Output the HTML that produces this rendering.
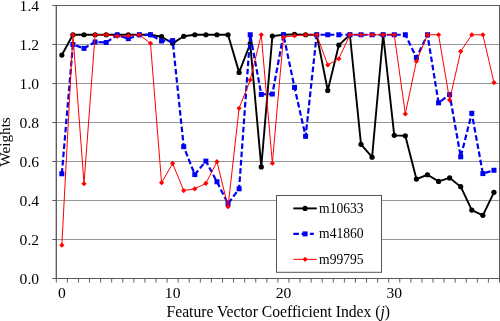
<!DOCTYPE html><html><head><meta charset="utf-8"><title>Weights chart</title>
<style>html,body{margin:0;padding:0;background:#fff;}svg{display:block;}text{font-family:"Liberation Serif","Times New Roman",serif;fill:#000;}</style></head><body>
<svg width="500" height="321" viewBox="0 0 500 321">
<rect x="0" y="0" width="500" height="321" fill="#fff"/>
<line x1="56.3" x2="499.5" y1="239.50" y2="239.50" stroke="#969696" stroke-width="1"/>
<line x1="56.3" x2="499.5" y1="200.50" y2="200.50" stroke="#969696" stroke-width="1"/>
<line x1="56.3" x2="499.5" y1="161.50" y2="161.50" stroke="#969696" stroke-width="1"/>
<line x1="56.3" x2="499.5" y1="122.50" y2="122.50" stroke="#969696" stroke-width="1"/>
<line x1="56.3" x2="499.5" y1="83.50" y2="83.50" stroke="#969696" stroke-width="1"/>
<line x1="56.3" x2="499.5" y1="44.50" y2="44.50" stroke="#969696" stroke-width="1"/>
<rect x="56.3" y="5.5" width="443.2" height="273.0" fill="none" stroke="#5a5a5a" stroke-width="1"/>
<line x1="56.3" x2="56.3" y1="5.5" y2="278.5" stroke="#5a5a5a" stroke-width="1"/>
<line x1="56.3" x2="499.5" y1="278.5" y2="278.5" stroke="#5a5a5a" stroke-width="1"/>
<line x1="52.3" x2="56.3" y1="278.50" y2="278.50" stroke="#5a5a5a" stroke-width="1"/>
<text x="39.1" y="283.50" font-size="15.6" text-anchor="end">0.0</text>
<line x1="52.3" x2="56.3" y1="239.50" y2="239.50" stroke="#5a5a5a" stroke-width="1"/>
<text x="39.1" y="244.50" font-size="15.6" text-anchor="end">0.2</text>
<line x1="52.3" x2="56.3" y1="200.50" y2="200.50" stroke="#5a5a5a" stroke-width="1"/>
<text x="39.1" y="205.50" font-size="15.6" text-anchor="end">0.4</text>
<line x1="52.3" x2="56.3" y1="161.50" y2="161.50" stroke="#5a5a5a" stroke-width="1"/>
<text x="39.1" y="166.50" font-size="15.6" text-anchor="end">0.6</text>
<line x1="52.3" x2="56.3" y1="122.50" y2="122.50" stroke="#5a5a5a" stroke-width="1"/>
<text x="39.1" y="127.50" font-size="15.6" text-anchor="end">0.8</text>
<line x1="52.3" x2="56.3" y1="83.50" y2="83.50" stroke="#5a5a5a" stroke-width="1"/>
<text x="39.1" y="88.50" font-size="15.6" text-anchor="end">1.0</text>
<line x1="52.3" x2="56.3" y1="44.50" y2="44.50" stroke="#5a5a5a" stroke-width="1"/>
<text x="39.1" y="49.50" font-size="15.6" text-anchor="end">1.2</text>
<line x1="52.3" x2="56.3" y1="5.50" y2="5.50" stroke="#5a5a5a" stroke-width="1"/>
<text x="39.1" y="10.50" font-size="15.6" text-anchor="end">1.4</text>
<line x1="56.30" x2="56.30" y1="278.5" y2="282.5" stroke="#5a5a5a" stroke-width="1"/>
<line x1="67.38" x2="67.38" y1="278.5" y2="282.5" stroke="#5a5a5a" stroke-width="1"/>
<line x1="78.46" x2="78.46" y1="278.5" y2="282.5" stroke="#5a5a5a" stroke-width="1"/>
<line x1="89.54" x2="89.54" y1="278.5" y2="282.5" stroke="#5a5a5a" stroke-width="1"/>
<line x1="100.62" x2="100.62" y1="278.5" y2="282.5" stroke="#5a5a5a" stroke-width="1"/>
<line x1="111.70" x2="111.70" y1="278.5" y2="282.5" stroke="#5a5a5a" stroke-width="1"/>
<line x1="122.78" x2="122.78" y1="278.5" y2="282.5" stroke="#5a5a5a" stroke-width="1"/>
<line x1="133.86" x2="133.86" y1="278.5" y2="282.5" stroke="#5a5a5a" stroke-width="1"/>
<line x1="144.94" x2="144.94" y1="278.5" y2="282.5" stroke="#5a5a5a" stroke-width="1"/>
<line x1="156.02" x2="156.02" y1="278.5" y2="282.5" stroke="#5a5a5a" stroke-width="1"/>
<line x1="167.10" x2="167.10" y1="278.5" y2="282.5" stroke="#5a5a5a" stroke-width="1"/>
<line x1="178.18" x2="178.18" y1="278.5" y2="282.5" stroke="#5a5a5a" stroke-width="1"/>
<line x1="189.26" x2="189.26" y1="278.5" y2="282.5" stroke="#5a5a5a" stroke-width="1"/>
<line x1="200.34" x2="200.34" y1="278.5" y2="282.5" stroke="#5a5a5a" stroke-width="1"/>
<line x1="211.42" x2="211.42" y1="278.5" y2="282.5" stroke="#5a5a5a" stroke-width="1"/>
<line x1="222.50" x2="222.50" y1="278.5" y2="282.5" stroke="#5a5a5a" stroke-width="1"/>
<line x1="233.58" x2="233.58" y1="278.5" y2="282.5" stroke="#5a5a5a" stroke-width="1"/>
<line x1="244.66" x2="244.66" y1="278.5" y2="282.5" stroke="#5a5a5a" stroke-width="1"/>
<line x1="255.74" x2="255.74" y1="278.5" y2="282.5" stroke="#5a5a5a" stroke-width="1"/>
<line x1="266.82" x2="266.82" y1="278.5" y2="282.5" stroke="#5a5a5a" stroke-width="1"/>
<line x1="277.90" x2="277.90" y1="278.5" y2="282.5" stroke="#5a5a5a" stroke-width="1"/>
<line x1="288.98" x2="288.98" y1="278.5" y2="282.5" stroke="#5a5a5a" stroke-width="1"/>
<line x1="300.06" x2="300.06" y1="278.5" y2="282.5" stroke="#5a5a5a" stroke-width="1"/>
<line x1="311.14" x2="311.14" y1="278.5" y2="282.5" stroke="#5a5a5a" stroke-width="1"/>
<line x1="322.22" x2="322.22" y1="278.5" y2="282.5" stroke="#5a5a5a" stroke-width="1"/>
<line x1="333.30" x2="333.30" y1="278.5" y2="282.5" stroke="#5a5a5a" stroke-width="1"/>
<line x1="344.38" x2="344.38" y1="278.5" y2="282.5" stroke="#5a5a5a" stroke-width="1"/>
<line x1="355.46" x2="355.46" y1="278.5" y2="282.5" stroke="#5a5a5a" stroke-width="1"/>
<line x1="366.54" x2="366.54" y1="278.5" y2="282.5" stroke="#5a5a5a" stroke-width="1"/>
<line x1="377.62" x2="377.62" y1="278.5" y2="282.5" stroke="#5a5a5a" stroke-width="1"/>
<line x1="388.70" x2="388.70" y1="278.5" y2="282.5" stroke="#5a5a5a" stroke-width="1"/>
<line x1="399.78" x2="399.78" y1="278.5" y2="282.5" stroke="#5a5a5a" stroke-width="1"/>
<line x1="410.86" x2="410.86" y1="278.5" y2="282.5" stroke="#5a5a5a" stroke-width="1"/>
<line x1="421.94" x2="421.94" y1="278.5" y2="282.5" stroke="#5a5a5a" stroke-width="1"/>
<line x1="433.02" x2="433.02" y1="278.5" y2="282.5" stroke="#5a5a5a" stroke-width="1"/>
<line x1="444.10" x2="444.10" y1="278.5" y2="282.5" stroke="#5a5a5a" stroke-width="1"/>
<line x1="455.18" x2="455.18" y1="278.5" y2="282.5" stroke="#5a5a5a" stroke-width="1"/>
<line x1="466.26" x2="466.26" y1="278.5" y2="282.5" stroke="#5a5a5a" stroke-width="1"/>
<line x1="477.34" x2="477.34" y1="278.5" y2="282.5" stroke="#5a5a5a" stroke-width="1"/>
<line x1="488.42" x2="488.42" y1="278.5" y2="282.5" stroke="#5a5a5a" stroke-width="1"/>
<line x1="499.50" x2="499.50" y1="278.5" y2="282.5" stroke="#5a5a5a" stroke-width="1"/>
<text x="61.84" y="297.5" font-size="15.6" text-anchor="middle">0</text>
<text x="172.64" y="297.5" font-size="15.6" text-anchor="middle">10</text>
<text x="283.44" y="297.5" font-size="15.6" text-anchor="middle">20</text>
<text x="394.24" y="297.5" font-size="15.6" text-anchor="middle">30</text>
<text x="278.3" y="317.3" font-size="15.65" text-anchor="middle">Feature Vector Coefficient Index (<tspan font-style="italic">j</tspan>)</text>
<text transform="translate(9.6,142.0) rotate(-90)" font-size="15.25" text-anchor="middle">Weights</text>
<polyline points="61.84,55.03 72.92,34.75 84.00,34.75 95.08,34.75 106.16,34.75 117.24,34.75 128.32,34.75 139.40,34.75 150.48,34.75 161.56,36.70 172.64,43.33 183.72,36.31 194.80,34.75 205.88,34.75 216.96,34.75 228.04,34.75 239.12,72.38 250.20,43.72 261.28,166.96 272.36,36.11 283.44,34.75 294.52,34.36 305.60,34.75 316.68,34.75 327.76,90.52 338.84,45.08 349.92,34.75 361.00,144.34 372.08,157.21 383.16,34.75 394.24,135.37 405.32,135.76 416.40,179.05 427.48,174.76 438.56,181.39 449.64,177.88 460.72,186.66 471.80,210.06 482.88,215.32 493.96,192.31" fill="none" stroke="#000" stroke-width="1.9" stroke-linejoin="round"/>
<circle cx="61.84" cy="55.03" r="2.6" fill="#000"/>
<circle cx="72.92" cy="34.75" r="2.6" fill="#000"/>
<circle cx="84.00" cy="34.75" r="2.6" fill="#000"/>
<circle cx="95.08" cy="34.75" r="2.6" fill="#000"/>
<circle cx="106.16" cy="34.75" r="2.6" fill="#000"/>
<circle cx="117.24" cy="34.75" r="2.6" fill="#000"/>
<circle cx="128.32" cy="34.75" r="2.6" fill="#000"/>
<circle cx="139.40" cy="34.75" r="2.6" fill="#000"/>
<circle cx="150.48" cy="34.75" r="2.6" fill="#000"/>
<circle cx="161.56" cy="36.70" r="2.6" fill="#000"/>
<circle cx="172.64" cy="43.33" r="2.6" fill="#000"/>
<circle cx="183.72" cy="36.31" r="2.6" fill="#000"/>
<circle cx="194.80" cy="34.75" r="2.6" fill="#000"/>
<circle cx="205.88" cy="34.75" r="2.6" fill="#000"/>
<circle cx="216.96" cy="34.75" r="2.6" fill="#000"/>
<circle cx="228.04" cy="34.75" r="2.6" fill="#000"/>
<circle cx="239.12" cy="72.38" r="2.6" fill="#000"/>
<circle cx="250.20" cy="43.72" r="2.6" fill="#000"/>
<circle cx="261.28" cy="166.96" r="2.6" fill="#000"/>
<circle cx="272.36" cy="36.11" r="2.6" fill="#000"/>
<circle cx="283.44" cy="34.75" r="2.6" fill="#000"/>
<circle cx="294.52" cy="34.36" r="2.6" fill="#000"/>
<circle cx="305.60" cy="34.75" r="2.6" fill="#000"/>
<circle cx="316.68" cy="34.75" r="2.6" fill="#000"/>
<circle cx="327.76" cy="90.52" r="2.6" fill="#000"/>
<circle cx="338.84" cy="45.08" r="2.6" fill="#000"/>
<circle cx="349.92" cy="34.75" r="2.6" fill="#000"/>
<circle cx="361.00" cy="144.34" r="2.6" fill="#000"/>
<circle cx="372.08" cy="157.21" r="2.6" fill="#000"/>
<circle cx="383.16" cy="34.75" r="2.6" fill="#000"/>
<circle cx="394.24" cy="135.37" r="2.6" fill="#000"/>
<circle cx="405.32" cy="135.76" r="2.6" fill="#000"/>
<circle cx="416.40" cy="179.05" r="2.6" fill="#000"/>
<circle cx="427.48" cy="174.76" r="2.6" fill="#000"/>
<circle cx="438.56" cy="181.39" r="2.6" fill="#000"/>
<circle cx="449.64" cy="177.88" r="2.6" fill="#000"/>
<circle cx="460.72" cy="186.66" r="2.6" fill="#000"/>
<circle cx="471.80" cy="210.06" r="2.6" fill="#000"/>
<circle cx="482.88" cy="215.32" r="2.6" fill="#000"/>
<circle cx="493.96" cy="192.31" r="2.6" fill="#000"/>
<polyline points="61.84,173.78 72.92,44.50 84.00,48.40 95.08,41.96 106.16,42.55 117.24,34.94 128.32,38.65 139.40,34.75 150.48,34.75 161.56,40.99 172.64,40.60 183.72,146.68 194.80,174.56 205.88,161.11 216.96,181.78 228.04,203.81 239.12,188.80 250.20,34.75 261.28,94.42 272.36,94.03 283.44,34.75 294.52,87.40 305.60,136.34 316.68,34.75 327.76,34.75 338.84,34.75 349.92,34.75 361.00,34.75 372.08,34.75 383.16,34.75 394.24,34.75 405.32,34.75 416.40,57.56 427.48,34.75 438.56,102.80 449.64,94.62 460.72,156.82 471.80,113.33 482.88,173.59 493.96,170.27" fill="none" stroke="#0000f0" stroke-width="2.2" stroke-dasharray="5.6 2.7" stroke-linejoin="round"/>
<rect x="59.34" y="171.28" width="5" height="5" fill="#0000f0"/>
<rect x="70.42" y="42.00" width="5" height="5" fill="#0000f0"/>
<rect x="81.50" y="45.90" width="5" height="5" fill="#0000f0"/>
<rect x="92.58" y="39.46" width="5" height="5" fill="#0000f0"/>
<rect x="103.66" y="40.05" width="5" height="5" fill="#0000f0"/>
<rect x="114.74" y="32.44" width="5" height="5" fill="#0000f0"/>
<rect x="125.82" y="36.15" width="5" height="5" fill="#0000f0"/>
<rect x="136.90" y="32.25" width="5" height="5" fill="#0000f0"/>
<rect x="147.98" y="32.25" width="5" height="5" fill="#0000f0"/>
<rect x="159.06" y="38.49" width="5" height="5" fill="#0000f0"/>
<rect x="170.14" y="38.10" width="5" height="5" fill="#0000f0"/>
<rect x="181.22" y="144.18" width="5" height="5" fill="#0000f0"/>
<rect x="192.30" y="172.06" width="5" height="5" fill="#0000f0"/>
<rect x="203.38" y="158.61" width="5" height="5" fill="#0000f0"/>
<rect x="214.46" y="179.28" width="5" height="5" fill="#0000f0"/>
<rect x="225.54" y="201.31" width="5" height="5" fill="#0000f0"/>
<rect x="236.62" y="186.30" width="5" height="5" fill="#0000f0"/>
<rect x="247.70" y="32.25" width="5" height="5" fill="#0000f0"/>
<rect x="258.78" y="91.92" width="5" height="5" fill="#0000f0"/>
<rect x="269.86" y="91.53" width="5" height="5" fill="#0000f0"/>
<rect x="280.94" y="32.25" width="5" height="5" fill="#0000f0"/>
<rect x="292.02" y="84.90" width="5" height="5" fill="#0000f0"/>
<rect x="303.10" y="133.84" width="5" height="5" fill="#0000f0"/>
<rect x="314.18" y="32.25" width="5" height="5" fill="#0000f0"/>
<rect x="325.26" y="32.25" width="5" height="5" fill="#0000f0"/>
<rect x="336.34" y="32.25" width="5" height="5" fill="#0000f0"/>
<rect x="347.42" y="32.25" width="5" height="5" fill="#0000f0"/>
<rect x="358.50" y="32.25" width="5" height="5" fill="#0000f0"/>
<rect x="369.58" y="32.25" width="5" height="5" fill="#0000f0"/>
<rect x="380.66" y="32.25" width="5" height="5" fill="#0000f0"/>
<rect x="391.74" y="32.25" width="5" height="5" fill="#0000f0"/>
<rect x="402.82" y="32.25" width="5" height="5" fill="#0000f0"/>
<rect x="413.90" y="55.06" width="5" height="5" fill="#0000f0"/>
<rect x="424.98" y="32.25" width="5" height="5" fill="#0000f0"/>
<rect x="436.06" y="100.30" width="5" height="5" fill="#0000f0"/>
<rect x="447.14" y="92.12" width="5" height="5" fill="#0000f0"/>
<rect x="458.22" y="154.32" width="5" height="5" fill="#0000f0"/>
<rect x="469.30" y="110.83" width="5" height="5" fill="#0000f0"/>
<rect x="480.38" y="171.09" width="5" height="5" fill="#0000f0"/>
<rect x="491.46" y="167.77" width="5" height="5" fill="#0000f0"/>
<polyline points="61.84,245.16 72.92,34.75 84.00,183.73 95.08,34.75 106.16,34.75 117.24,36.31 128.32,35.72 139.40,34.75 150.48,43.33 161.56,182.75 172.64,163.45 183.72,190.56 194.80,188.80 205.88,183.34 216.96,161.69 228.04,206.74 239.12,108.26 250.20,79.99 261.28,34.75 272.36,163.25 283.44,37.09 294.52,35.72 305.60,34.75 316.68,34.75 327.76,64.97 338.84,58.73 349.92,34.75 361.00,34.75 372.08,34.75 383.16,34.75 394.24,34.75 405.32,113.92 416.40,61.27 427.48,34.75 438.56,34.75 449.64,100.07 460.72,51.32 471.80,34.75 482.88,34.75 493.96,82.53" fill="none" stroke="#ff0000" stroke-width="1" stroke-linejoin="round"/>
<polygon points="61.84,242.56 64.44,245.16 61.84,247.75 59.24,245.16" fill="#ff0000"/>
<polygon points="72.92,32.15 75.52,34.75 72.92,37.35 70.32,34.75" fill="#ff0000"/>
<polygon points="84.00,181.13 86.60,183.73 84.00,186.33 81.40,183.73" fill="#ff0000"/>
<polygon points="95.08,32.15 97.68,34.75 95.08,37.35 92.48,34.75" fill="#ff0000"/>
<polygon points="106.16,32.15 108.76,34.75 106.16,37.35 103.56,34.75" fill="#ff0000"/>
<polygon points="117.24,33.71 119.84,36.31 117.24,38.91 114.64,36.31" fill="#ff0000"/>
<polygon points="128.32,33.12 130.92,35.72 128.32,38.32 125.72,35.72" fill="#ff0000"/>
<polygon points="139.40,32.15 142.00,34.75 139.40,37.35 136.80,34.75" fill="#ff0000"/>
<polygon points="150.48,40.73 153.08,43.33 150.48,45.93 147.88,43.33" fill="#ff0000"/>
<polygon points="161.56,180.16 164.16,182.75 161.56,185.35 158.96,182.75" fill="#ff0000"/>
<polygon points="172.64,160.85 175.24,163.45 172.64,166.05 170.04,163.45" fill="#ff0000"/>
<polygon points="183.72,187.96 186.32,190.56 183.72,193.16 181.12,190.56" fill="#ff0000"/>
<polygon points="194.80,186.20 197.40,188.80 194.80,191.40 192.20,188.80" fill="#ff0000"/>
<polygon points="205.88,180.74 208.48,183.34 205.88,185.94 203.28,183.34" fill="#ff0000"/>
<polygon points="216.96,159.09 219.56,161.69 216.96,164.29 214.36,161.69" fill="#ff0000"/>
<polygon points="228.04,204.14 230.64,206.74 228.04,209.34 225.44,206.74" fill="#ff0000"/>
<polygon points="239.12,105.66 241.72,108.26 239.12,110.86 236.52,108.26" fill="#ff0000"/>
<polygon points="250.20,77.39 252.80,79.99 250.20,82.59 247.60,79.99" fill="#ff0000"/>
<polygon points="261.28,32.15 263.88,34.75 261.28,37.35 258.68,34.75" fill="#ff0000"/>
<polygon points="272.36,160.66 274.96,163.25 272.36,165.85 269.76,163.25" fill="#ff0000"/>
<polygon points="283.44,34.49 286.04,37.09 283.44,39.69 280.84,37.09" fill="#ff0000"/>
<polygon points="294.52,33.12 297.12,35.72 294.52,38.32 291.92,35.72" fill="#ff0000"/>
<polygon points="305.60,32.15 308.20,34.75 305.60,37.35 303.00,34.75" fill="#ff0000"/>
<polygon points="316.68,32.15 319.28,34.75 316.68,37.35 314.08,34.75" fill="#ff0000"/>
<polygon points="327.76,62.37 330.36,64.97 327.76,67.57 325.16,64.97" fill="#ff0000"/>
<polygon points="338.84,56.13 341.44,58.73 338.84,61.33 336.24,58.73" fill="#ff0000"/>
<polygon points="349.92,32.15 352.52,34.75 349.92,37.35 347.32,34.75" fill="#ff0000"/>
<polygon points="361.00,32.15 363.60,34.75 361.00,37.35 358.40,34.75" fill="#ff0000"/>
<polygon points="372.08,32.15 374.68,34.75 372.08,37.35 369.48,34.75" fill="#ff0000"/>
<polygon points="383.16,32.15 385.76,34.75 383.16,37.35 380.56,34.75" fill="#ff0000"/>
<polygon points="394.24,32.15 396.84,34.75 394.24,37.35 391.64,34.75" fill="#ff0000"/>
<polygon points="405.32,111.32 407.92,113.92 405.32,116.52 402.72,113.92" fill="#ff0000"/>
<polygon points="416.40,58.67 419.00,61.27 416.40,63.87 413.80,61.27" fill="#ff0000"/>
<polygon points="427.48,32.15 430.08,34.75 427.48,37.35 424.88,34.75" fill="#ff0000"/>
<polygon points="438.56,32.15 441.16,34.75 438.56,37.35 435.96,34.75" fill="#ff0000"/>
<polygon points="449.64,97.47 452.24,100.07 449.64,102.67 447.04,100.07" fill="#ff0000"/>
<polygon points="460.72,48.72 463.32,51.32 460.72,53.92 458.12,51.32" fill="#ff0000"/>
<polygon points="471.80,32.15 474.40,34.75 471.80,37.35 469.20,34.75" fill="#ff0000"/>
<polygon points="482.88,32.15 485.48,34.75 482.88,37.35 480.28,34.75" fill="#ff0000"/>
<polygon points="493.96,79.93 496.56,82.53 493.96,85.13 491.36,82.53" fill="#ff0000"/>
<rect x="276.5" y="195.5" width="105" height="76.8" fill="#fff" stroke="#555" stroke-width="1"/>
<line x1="293.3" x2="316.8" y1="208.4" y2="208.4" stroke="#000" stroke-width="1.9"/>
<circle cx="305.05" cy="208.4" r="2.6" fill="#000"/>
<line x1="293.3" x2="313.8" y1="233.9" y2="233.9" stroke="#0000f0" stroke-width="2.2" stroke-dasharray="5.6 2.7"/>
<rect x="302.55" y="231.4" width="5" height="5" fill="#0000f0"/>
<line x1="293.3" x2="316.8" y1="259.35" y2="259.35" stroke="#ff0000" stroke-width="1"/>
<polygon points="305.05,256.75 307.65,259.35 305.05,261.95 302.45,259.35" fill="#ff0000"/>
<text x="319.1" y="212.80" font-size="13.6">m10633</text>
<text x="319.1" y="238.30" font-size="13.6">m41860</text>
<text x="319.1" y="263.75" font-size="13.6">m99795</text>
</svg></body></html>
